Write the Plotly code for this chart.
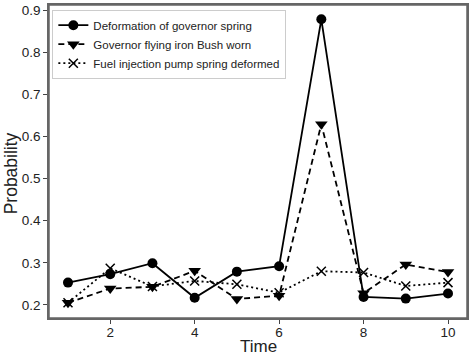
import plotly.graph_objects as go

time = [1, 2, 3, 4, 5, 6, 7, 8, 9, 10]
governor_spring = [0.253, 0.273, 0.299, 0.217, 0.279, 0.292, 0.878, 0.219, 0.215, 0.227]
iron_bush = [0.205, 0.239, 0.243, 0.281, 0.214, 0.222, 0.629, 0.228, 0.296, 0.278]
pump_spring = [0.205, 0.287, 0.244, 0.257, 0.249, 0.229, 0.280, 0.277, 0.245, 0.253]

names = ["Deformation of governor spring",
         "Governor flying iron Bush worn",
         "Fuel injection pump spring deformed"]
x_ticks = [2, 4, 6, 8, 10]
y_ticks = [0.2, 0.3, 0.4, 0.5, 0.6, 0.7, 0.8, 0.9]

fig = go.Figure()
fig.add_trace(go.Scatter(x=time, y=governor_spring, name=names[0], mode="lines+markers",
                         line=dict(color="black", width=1.8, dash="solid"),
                         marker=dict(symbol="circle", size=10, color="black")))
fig.add_trace(go.Scatter(x=time, y=iron_bush, name=names[1], mode="lines+markers",
                         line=dict(color="black", width=1.8, dash="6px,4px"),
                         marker=dict(symbol="triangle-down", size=11, color="black")))
fig.add_trace(go.Scatter(x=time, y=pump_spring, name=names[2], mode="lines+markers",
                         line=dict(color="black", width=1.8, dash="2px,3px"),
                         marker=dict(symbol="x-thin", size=9, color="black",
                                     line=dict(width=1.5, color="black"))))

axis_common = dict(showgrid=False, zeroline=False, showline=True, mirror=True,
                   linecolor="#666666", linewidth=1.5, ticks="outside", ticklen=4,
                   tickcolor="#444444", automargin=False,
                   tickfont=dict(family="Liberation Sans, Arial", size=13.5, color="#222222"))

fig.update_layout(
    width=474, height=356,
    margin=dict(l=49, r=7, t=5, b=38, autoexpand=False),
    paper_bgcolor="white", plot_bgcolor="white",
    font=dict(family="Liberation Sans, Arial", color="#222222"),
    xaxis=dict(range=[0.55, 10.45], tickvals=x_ticks, ticklabelstandoff=-3, **axis_common),
    yaxis=dict(range=[0.169, 0.912], tickvals=y_ticks, tickformat=".1f", **axis_common),
    legend=dict(x=0.008, y=0.985, xanchor="left", yanchor="top",
                bgcolor="white", bordercolor="#cccccc", borderwidth=1,
                font=dict(size=11.5, color="#222222"), tracegroupgap=0,
                itemwidth=30),
    showlegend=True,
    shapes=[dict(type="rect", xref="paper", yref="paper", x0=0, y0=0, x1=1, y1=1,
                 line=dict(color="#666666", width=1.5), fillcolor="rgba(0,0,0,0)", layer="above")],
    annotations=[
        dict(text="Time", xref="paper", yref="paper", x=0.5, y=-0.0895, xanchor="center",
             yanchor="middle", showarrow=False, font=dict(size=17, color="#222222")),
        dict(text="Probability", xref="paper", yref="paper", x=-0.091, y=0.462, xanchor="center",
             yanchor="middle", textangle=-90, showarrow=False, font=dict(size=17.5, color="#222222")),
    ],
)

fig.write_html("out.html", config={"displayModeBar": False},
               post_script="document.body.style.margin='0';document.body.style.overflow='hidden';")
